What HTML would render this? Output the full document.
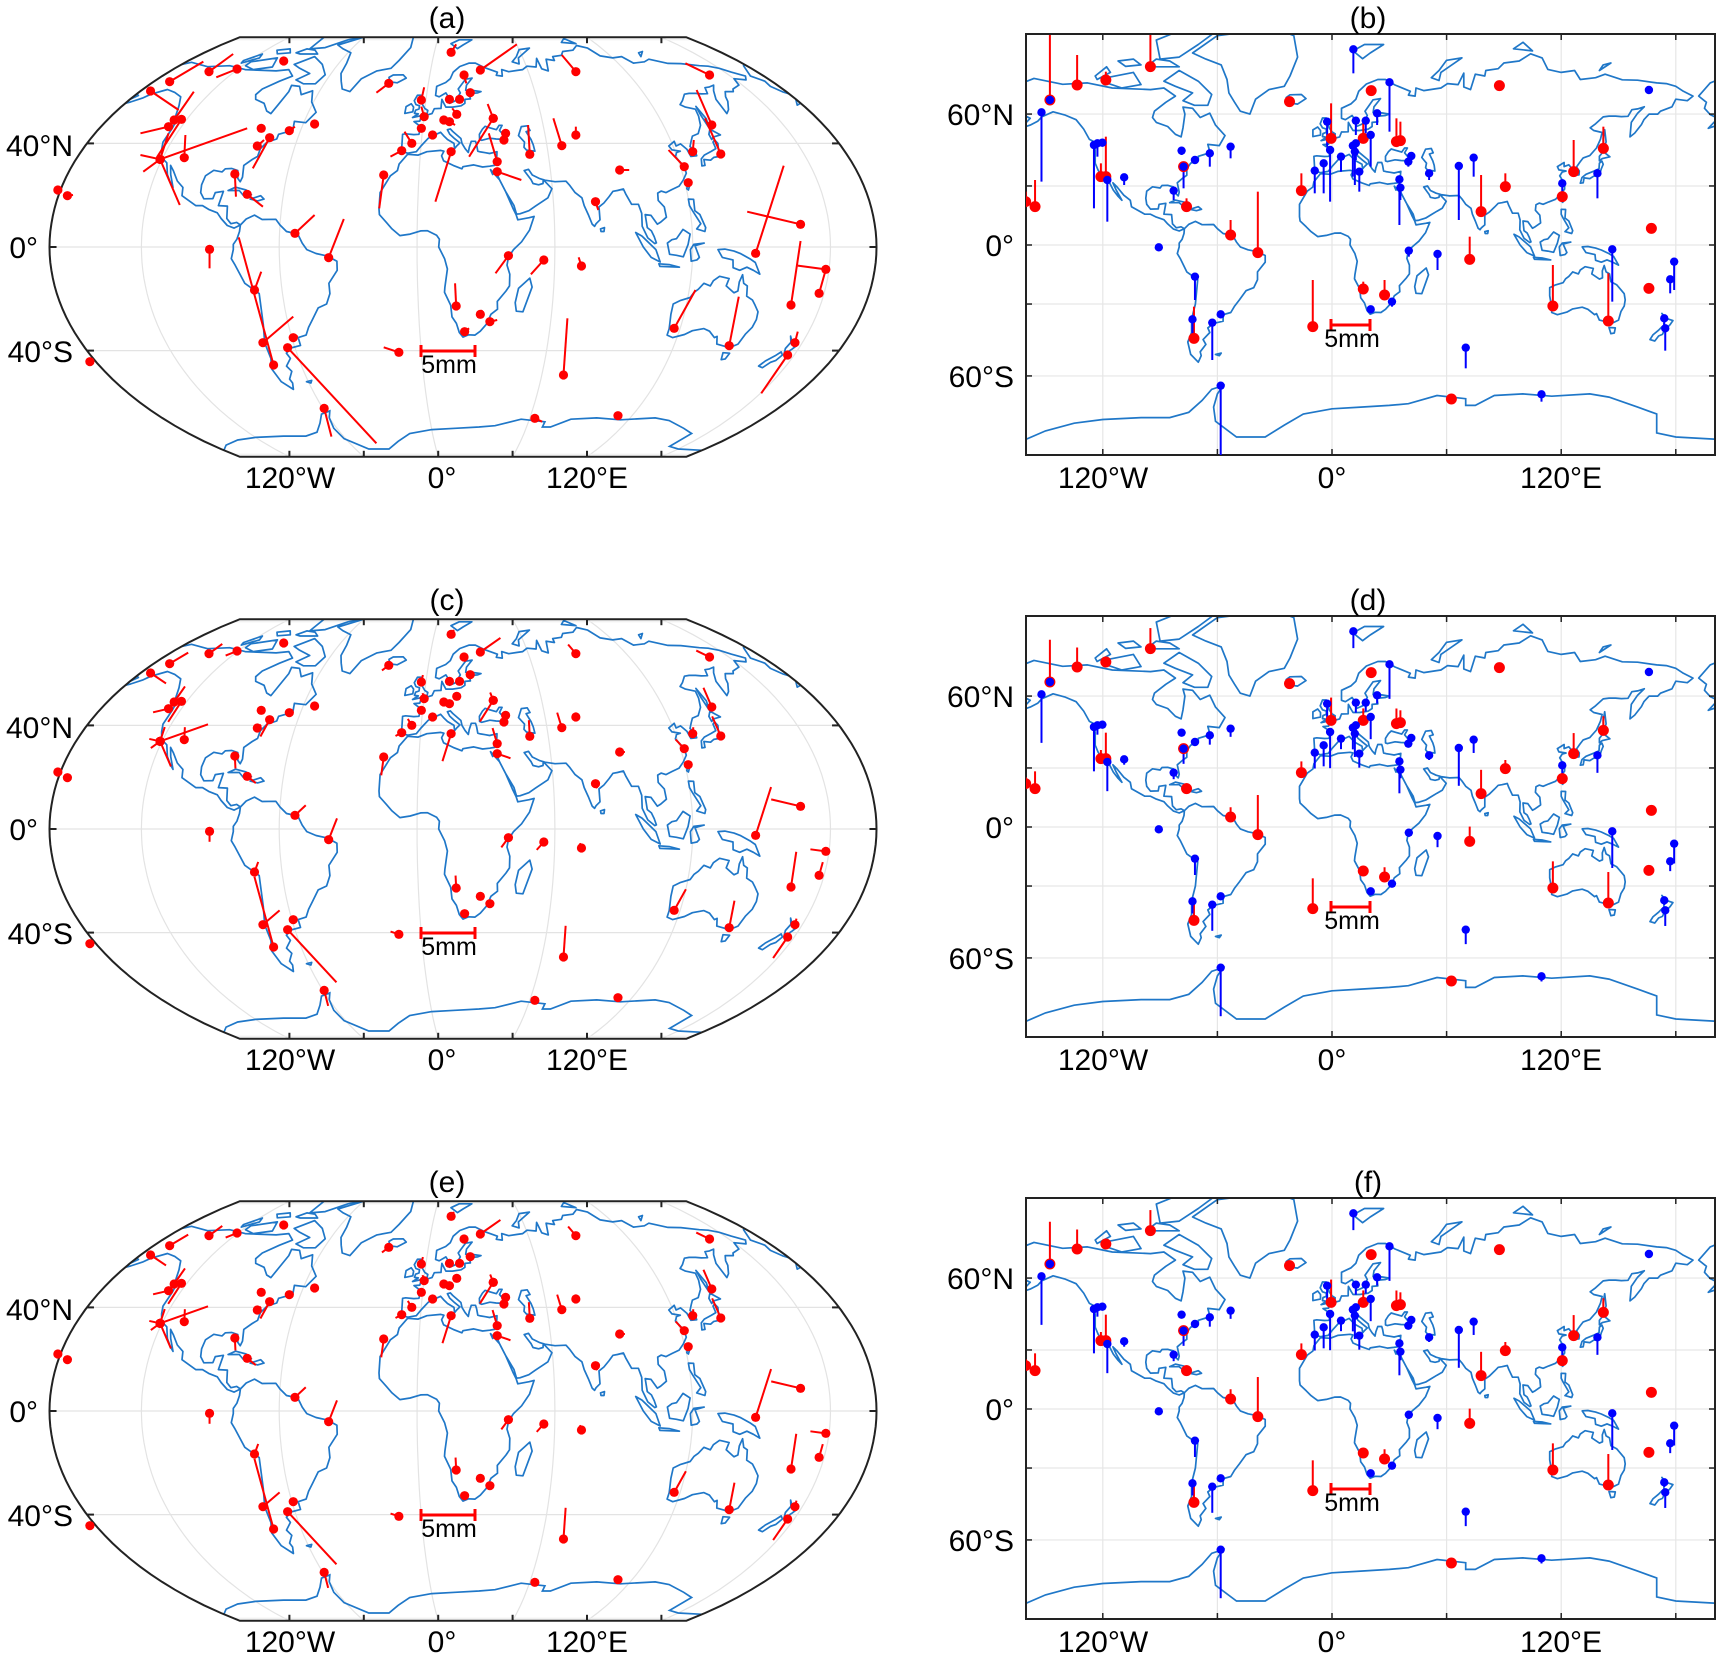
<!DOCTYPE html>
<html><head><meta charset="utf-8">
<style>
html,body{margin:0;padding:0;background:#fff;}
svg{display:block;}
text{font-family:"Liberation Sans",Arial,sans-serif;fill:#000;}
</style></head>
<body>
<svg id="s" width="1716" height="1655" viewBox="0 0 1716 1655" xmlns="http://www.w3.org/2000/svg">
<g id="root"></g>
<g font-size="30" text-anchor="middle">
<text x="447" y="28">(a)</text><text x="1368" y="28">(b)</text>
<text x="447" y="610">(c)</text><text x="1368" y="610">(d)</text>
<text x="447" y="1192">(e)</text><text x="1368" y="1192">(f)</text>
</g>
<g font-size="30">
<g text-anchor="end">
<text x="73" y="156">40°N</text><text x="38" y="258">0°</text><text x="73" y="362">40°S</text>
<text x="73" y="738">40°N</text><text x="38" y="840">0°</text><text x="73" y="944">40°S</text>
<text x="73" y="1320">40°N</text><text x="38" y="1422">0°</text><text x="73" y="1526">40°S</text>
<text x="1014" y="125">60°N</text><text x="1014" y="256">0°</text><text x="1014" y="387">60°S</text>
<text x="1014" y="707">60°N</text><text x="1014" y="838">0°</text><text x="1014" y="969">60°S</text>
<text x="1014" y="1289">60°N</text><text x="1014" y="1420">0°</text><text x="1014" y="1551">60°S</text>
</g>
<g text-anchor="middle">
<text x="290" y="488">120°W</text><text x="442" y="488">0°</text><text x="587" y="488">120°E</text>
<text x="290" y="1070">120°W</text><text x="442" y="1070">0°</text><text x="587" y="1070">120°E</text>
<text x="290" y="1652">120°W</text><text x="442" y="1652">0°</text><text x="587" y="1652">120°E</text>
<text x="1103" y="488">120°W</text><text x="1332" y="488">0°</text><text x="1561" y="488">120°E</text>
<text x="1103" y="1070">120°W</text><text x="1332" y="1070">0°</text><text x="1561" y="1070">120°E</text>
<text x="1103" y="1652">120°W</text><text x="1332" y="1652">0°</text><text x="1561" y="1652">120°E</text>
</g>
</g>
<g font-size="25" text-anchor="middle">
<text x="449" y="373">5mm</text><text x="449" y="955">5mm</text><text x="449" y="1537">5mm</text>
<text x="1352" y="347">5mm</text><text x="1352" y="929">5mm</text><text x="1352" y="1511">5mm</text>
</g>
</svg>
<script>
(function(){
var NS="http://www.w3.org/2000/svg";
var root=document.getElementById('root');
function el(tag,attrs,parent){var e=document.createElementNS(NS,tag);for(var k in attrs)e.setAttribute(k,attrs[k]);(parent||root).appendChild(e);return e;}
var POLYS=[
[[-168,66],[-162,70],[-156,71.3],[-141,69.6],[-128,70],[-115,68.5],[-95,68],[-88,68.5],[-82,66],[-87,64],[-93,61],[-94,58.8],[-92,57],[-86,55.5],[-82,52.5],[-79,51.5],[-78,55],[-77,60],[-78,62.4],[-73,62],[-69,58.8],[-64,60.3],[-61,56],[-56,52],[-59,48],[-65,48.5],[-64,45.5],[-66,44.5],[-70,43.5],[-70,41.7],[-74,40.5],[-76,38],[-76,35],[-78,33.8],[-81,31.5],[-80,27],[-80.5,25.2],[-82,26.5],[-83,29.5],[-86,30.3],[-89,30.2],[-90,29],[-94,29.6],[-97,27.5],[-97.5,24],[-97,21],[-95,18.6],[-91,18.7],[-90.5,21],[-87,21.5],[-88,16],[-84,15.8],[-83.5,11],[-81.5,9],[-79,9.5],[-77.3,8.5],[-80,7.3],[-83,8.3],[-86,11],[-88,13.2],[-92,14.5],[-95,16],[-98,16],[-105,19.8],[-105.6,23],[-109,25.5],[-112.5,29.5],[-114.7,31.5],[-113,28],[-110,23],[-112,25],[-114.5,28],[-117,32.5],[-120.5,34.5],[-122.5,37.5],[-124,40.5],[-124,46],[-124.6,48.4],[-123,49],[-127,50.5],[-130,54.5],[-134,58],[-140,59.7],[-146,60.8],[-152,59],[-154,57.5],[-158,56],[-163,54.8],[-158,58.5],[-162,59.8],[-165,62],[-164,64],[-168,66]],
[[-73,78],[-60,82],[-30,83.5],[-20,82],[-18,77],[-22,72],[-25,69],[-33,68],[-40,65],[-43,60],[-48,61],[-51,64],[-54,67],[-55,71],[-58,75],[-66,76.5],[-73,78]],
[[-80,73.5],[-70,70.5],[-63,66.5],[-65,63],[-72,63],[-78,64.5],[-73,67],[-82,69],[-88,70.5],[-80,73.5]],
[[-118,71.5],[-104,73],[-100,69.5],[-110,68.5],[-118,70],[-118,71.5]],
[[-90,76.5],[-80,77],[-70,80],[-62,82.5],[-80,83],[-92,81],[-90,76.5]],
[[-96,75],[-92,76.5],[-85,76],[-80,74.5],[-92,74.5],[-96,75]],
[[-112,76],[-104,76.5],[-100,75],[-108,74.6],[-112,76]],
[[-124,72],[-118,74.5],[-116,73],[-123,71],[-124,72]],
[[-77.3,8.5],[-75,10.8],[-71.5,12.3],[-68,10.6],[-62,10.7],[-60,8.5],[-57,6],[-52,5],[-50,1.5],[-48,-1],[-44,-2.5],[-39,-3.5],[-35,-5.5],[-35,-9],[-39,-14],[-39,-18],[-41,-22],[-45,-23.5],[-48.5,-28],[-51,-31],[-53,-34],[-57,-35],[-57,-38],[-62,-39],[-65,-41],[-64,-43],[-67.5,-46],[-66,-48],[-69,-51],[-68.5,-52.5],[-70,-55],[-74,-52],[-75.5,-47],[-73.5,-43],[-73.5,-37],[-71.5,-30],[-70.3,-18],[-76,-14],[-79.5,-7],[-81,-4.5],[-80,-1],[-80,1],[-78.5,3],[-77.5,6],[-77.3,8.5]],
[[-9.5,43.5],[-9,37],[-6,36.2],[-2,36.8],[0,39],[3.2,42],[6,43.2],[9,44.3],[10.5,43],[12.5,41.5],[15.7,40],[16,38],[17,39],[18.5,40.2],[16,41.8],[13.5,43.6],[12.3,45.3],[13.7,45.6],[15,44.6],[19,41.9],[19.5,40],[21,38],[22.5,36.5],[23,38.5],[24,40.8],[26,40.8],[26.5,39.5],[27,37],[28.2,36.7],[30.5,36.4],[32.5,36.1],[36,36.8],[35.8,35],[34.5,31.5],[32.3,31.2],[29,30.9],[25,31.7],[20,31],[19.5,30.2],[15.5,31.5],[11,33.3],[10,35.2],[11,37],[9.5,37.3],[3,36.8],[-1,35.5],[-6,35.8],[-9.5,32],[-10,29.5],[-13,27.5],[-17,21],[-17,14.7],[-16.7,12.5],[-13.5,9.5],[-11,7],[-7.5,4.4],[-3,5],[1.5,6.2],[4.5,6.3],[8.5,4.5],[9.7,3],[9.4,0],[12,-4.5],[13.2,-8.5],[12,-15.5],[11.8,-17.5],[14.5,-22.5],[15,-27],[17,-29.5],[18.3,-33],[20,-34.8],[22.5,-33.9],[25.6,-34],[28,-32.5],[31,-29.5],[32.6,-26],[35.5,-24],[35.3,-21],[39,-17],[40.5,-15],[40.5,-10.5],[39.2,-7],[39.8,-4],[42,-1],[45.5,2],[49,6.5],[51.2,11.8],[49,11.3],[44,10.5],[43.3,12.5],[42,15],[39,21.5],[36.5,26],[34,28.5],[32.6,29.9],[33.5,28],[34.9,29.5],[36.5,26],[39,21.5],[42.5,16],[43.5,12.7],[45,12.8],[49,14],[52,15.8],[55,17.5],[57.7,19],[59.8,22.5],[56.3,26],[56,24.5],[54,24],[51.5,24.5],[50.8,26],[50,27],[48,29.5],[50,30],[51.5,27.8],[54.5,26.5],[57,25.8],[61.5,25.2],[66.5,25.4],[68,23.7],[70,21],[72.8,19],[73.5,16],[75,12.5],[76.5,8.8],[77.5,8],[78.2,9],[80,10.5],[80,15.5],[82.3,17],[85,19.5],[87,21.5],[89,21.8],[91.8,22.4],[92.5,20.5],[94.5,16.5],[97.5,16.5],[98.5,13],[98.3,8],[100.5,3.5],[103.5,1.3],[104.2,1.6],[103.3,4],[102.2,6.2],[100.5,7.5],[100,12.5],[102.5,12.2],[105,8.8],[106.5,9.6],[109.2,11.5],[108.8,15.5],[106.5,18],[106.8,20.8],[108.5,21.6],[110.5,21],[113.5,22.2],[117,23.5],[119.5,25.8],[121.8,28.5],[121.8,31],[120.8,32.5],[119.2,34.8],[120.5,36.5],[122.5,37],[118.8,37.5],[118,39],[121.5,40.8],[121.5,39],[124,39.8],[126,37.7],[126.5,35],[129.3,35.2],[129.5,37],[128,38.8],[129.8,41],[131.5,42.8],[135,43.8],[138.5,47],[140.5,50.5],[141.4,53.2],[137,54],[135.2,55],[138,56.5],[142,59],[145,59.3],[148.5,59.3],[151.5,59.1],[155,59.2],[157,61.5],[160,61.8],[163.5,62.5],[160,60.3],[156.7,57],[156,51.5],[158.5,53],[162,56.2],[163.3,58],[166,60],[170.5,60],[172,61],[178,62.5],[180,65],[186,64.5],[189,66],[184,67.5],[180,69],[175,69.8],[170,70],[160,70.8],[152,70.9],[143,72.5],[138,71.5],[130,71],[127,73.5],[120,73],[113,73.8],[110,76.8],[104,77.8],[98,76],[90,75.5],[87,74],[80.5,73.5],[80,72],[75,72.5],[72.5,68],[69,68.8],[69,72.8],[66,69.5],[60.5,69.8],[57,68.5],[53.5,68.2],[48,67.7],[44,68.5],[43.5,66],[40,66.3],[41,67.5],[33,69.4],[28,71],[24,71],[18,69.7],[14,67.5],[12.5,65],[10,63.5],[5,62],[5,58.5],[7,58],[10.5,59.5],[12,58],[12.8,55.5],[14.5,56],[16,56.5],[18.5,59.5],[17.3,61],[21.5,64.8],[25.4,65.2],[22,62.5],[21.5,60.5],[26,60.4],[30,60],[28,59.5],[23.5,59.2],[24,57.2],[21,57],[21,55.5],[19,54.5],[14.5,54],[11,54],[10,55.2],[8.6,57],[8.5,55],[8.5,53.5],[5,53.4],[4,51.5],[1.6,51],[0,49.7],[-1.5,49.7],[-1.8,48.6],[-4.7,48.4],[-2,47],[-1,46],[-1.5,43.5],[-4,43.4],[-8,43.7],[-9.5,43.5]],
[[28,41.5],[28,43.5],[29.6,45.5],[31,46.6],[33.5,46],[36.5,45.3],[38,47],[39.5,47],[38,45],[41.5,41.5],[36,41.7],[33,42],[29,41.2],[28,41.5]],
[[47,43],[49,46.5],[52,46.8],[53,45],[51,44.5],[52.8,41.5],[53.5,39.5],[53.9,37],[50,37.4],[49,38.5],[49.5,40.5],[47,43]],
[[-5.7,50],[1.4,51.2],[1.7,52.7],[0,53.5],[-1.5,55],[-2,57],[-4,57.7],[-3,58.6],[-5,58.6],[-6.2,56.5],[-5,55],[-3,54.5],[-3,53.3],[-4.7,52.8],[-5,51.6],[-3,51.4],[-5.7,50]],
[[-10,51.6],[-6,52.2],[-6,54],[-7.5,55.3],[-10,54.2],[-10,51.6]],
[[-24,65.5],[-22,66.4],[-16,66.5],[-13.6,65.2],[-18,63.4],[-22.5,63.8],[-24,65.5]],
[[49.3,-12],[50.5,-15.5],[47,-25],[44,-24.8],[43.3,-21.5],[44.5,-16],[49.3,-12]],
[[130,31.3],[131.5,31.5],[132,33.8],[135,33.5],[137,34.6],[140,35],[141,38],[142,40],[141.3,41.4],[140,40.5],[139.8,38],[137,36.9],[133,35.5],[130.9,34],[130,31.3]],
[[140,41.5],[141.5,42.5],[145.5,43.3],[142,45.5],[140,43.5],[140,41.5]],
[[142,46],[143.5,49.5],[142.8,54.3],[142,51],[142,46]],
[[120,18.5],[122.3,18.4],[122,14],[124,12.5],[126,7.5],[125.5,6],[122,7],[124,9],[121,14],[120,16],[120,18.5]],
[[109,1.5],[111,2.8],[113,3.2],[116,6.8],[119,5],[118,1],[116,-3.8],[113,-3.2],[110,-2.8],[109,1.5]],
[[95.3,5.6],[98,4.2],[104,-1],[106,-5.8],[102,-4],[98.5,0],[95.3,5.6]],
[[105.5,-6.5],[110,-6.8],[114.5,-7.8],[106,-7.5],[105.5,-6.5]],
[[119,-1],[120.5,1],[125,1.5],[121,0.5],[123,-4],[122,-5],[119.5,-5.5],[119,-1]],
[[131,-1],[134,-0.8],[138,-1.6],[141,-2.6],[145,-4.5],[147.5,-6],[150,-10.5],[147,-9],[144,-7.8],[141,-9],[138,-8],[137.7,-5],[133,-4],[131,-1]],
[[114,-22],[114,-26],[115,-31.5],[115,-34],[118,-35],[123,-33.8],[126,-32.3],[131,-31.5],[134,-32.5],[137.5,-35],[138.5,-34.5],[140,-37.5],[144,-38.3],[146.5,-39],[150,-37.5],[151.3,-33.5],[153,-31],[153.5,-28],[153,-25],[150.8,-22.5],[149,-20.5],[146,-19],[145.3,-15],[143.5,-14],[142.5,-10.7],[141.5,-13.5],[141.6,-17],[140,-17.7],[136,-15],[136.8,-12.2],[132.5,-11.3],[130,-13],[129,-15],[126,-14],[124,-16.3],[122.3,-17.5],[121,-19.5],[117,-20.6],[114,-22]],
[[145,-40.8],[148.3,-41],[147.8,-43.2],[146,-43.5],[145,-40.8]],
[[172.7,-34.4],[175,-36.7],[178.5,-37.7],[177,-39.5],[174.8,-41.4],[173.7,-39.2],[174.5,-36.8],[172.7,-34.4]],
[[172.7,-40.5],[174.3,-41.7],[173,-43.8],[171,-44.5],[169,-46.6],[166.5,-46],[168,-44],[171,-42],[172.7,-40.5]],
[[-85,21.8],[-82,23.1],[-77,22],[-74.2,20.2],[-77.7,19.9],[-80,21.8],[-85,21.8]],
[[-74.4,18.5],[-70,19.8],[-68.3,18.5],[-71,17.8],[-74.4,18.5]],
[[11,78.5],[17,80],[27,80],[20,78],[16,76.6],[11,78.5]],
[[52,71.5],[56,73.5],[60,76.2],[68,76.8],[57,73],[56,70.7],[52,71.5]],
[[80,7],[81.8,7.5],[81.5,6],[80.2,6],[80,7]],
[[120.2,22.5],[121.5,25],[122,24],[120.8,22],[120.2,22.5]],
[[-155.5,19],[-155,19.8],[-156,20],[-155.5,19]],
[[-61,-52],[-58,-51.5],[-59,-52.5],[-61,-52]],
[[140,73.5],[146,75.5],[142,75],[140,73.5]],
[[95,79],[105,78.5],[100,80.5],[95,79]]
];
var ANT=[[-180,-78],[-160,-78.5],[-150,-76.5],[-135,-74.5],[-120,-73.5],[-100,-73],[-85,-73],[-75,-71.5],[-68,-68],[-63,-64.5],[-57,-63.3],[-60,-66],[-62,-70],[-61,-74],[-50,-78],[-35,-78],[-25,-75],[-15,-72],[0,-70.5],[15,-70],[30,-69.5],[40,-69],[55,-66.5],[70,-67.5],[70,-69.5],[75,-69.5],[85,-66.5],[100,-66],[115,-66.7],[135,-66],[145,-67],[160,-70],[170,-72],[170,-77],[180,-78],[200,-78.5],[220,-78]];

function XA(p){p=Math.max(-81,Math.min(81,p));return Math.sqrt(1-1.08e-4*p*p);}
function projA(lon,lat,dy){var p=Math.max(-81,Math.min(81,lat));return [463+2.297*XA(p)*(lon-20),247-2.59*p+dy];}
function projB(lon,lat,dy){var f=Math.max(-85,Math.min(85,lat))*Math.PI/180;return [1332+1.91*lon,245-136.75*Math.log(Math.tan(Math.PI/4+0.4*f))+dy];}
function pathOf(pts,proj,dy,off,close){var s='';for(var i=0;i<pts.length;i++){var q=proj(pts[i][0]+off,pts[i][1],dy);s+=(i?'L':'M')+q[0].toFixed(1)+','+q[1].toFixed(1);}return s+(close?'Z':'');}
function boundaryA(dy){var s='';var i,q;for(i=-81;i<=81;i+=3){q=projA(200,i,dy);s+=(s?'L':'M')+q[0].toFixed(1)+','+q[1].toFixed(1);}for(i=81;i>=-81;i-=3){q=projA(-160,i,dy);s+='L'+q[0].toFixed(1)+','+q[1].toFixed(1);}return s+'Z';}

var COAST='#1f77c8';
var rows=[0,582,1164];
rows.forEach(function(dy,ri){
  var cid='ca'+ri;
  var cp=el('clipPath',{id:cid});el('path',{d:boundaryA(dy)},cp);
  var gA=el('g',{'clip-path':'url(#'+cid+')'});
  [-120,-60,0,60,120,180].forEach(function(L){var pts=[];for(var p=-81;p<=81;p+=3)pts.push([L,p]);el('path',{d:pathOf(pts,projA,dy,0,false),fill:'none',stroke:'#e3e3e3','stroke-width':1.2},gA);});
  [-40,0,40].forEach(function(P){var a=projA(-160,P,dy),b=projA(200,P,dy);el('line',{x1:a[0],y1:a[1],x2:b[0],y2:b[1],stroke:'#e3e3e3','stroke-width':1.2},gA);});
  [-80,80].forEach(function(P){var a=projA(-160,P,dy),b=projA(200,P,dy);el('line',{x1:a[0],y1:a[1],x2:b[0],y2:b[1],stroke:'#eeeeee','stroke-width':1},gA);});
  var d='';POLYS.forEach(function(pl){d+=pathOf(pl,projA,dy,0,true);d+=pathOf(pl,projA,dy,360,true);});
  el('path',{d:d,fill:'none',stroke:COAST,'stroke-width':1.7,'stroke-linejoin':'round'},gA);
  el('path',{d:pathOf(ANT,projA,dy,0,false),fill:'none',stroke:COAST,'stroke-width':1.7},gA);
  el('path',{d:boundaryA(dy),fill:'none',stroke:'#222','stroke-width':2});
  [-40,0,40].forEach(function(P){var a=projA(-160,P,dy),b=projA(200,P,dy);el('line',{x1:a[0],y1:a[1],x2:a[0]+7,y2:a[1],stroke:'#222','stroke-width':2});el('line',{x1:b[0]-7,y1:b[1],x2:b[0],y2:b[1],stroke:'#222','stroke-width':2});});
  [-120,-60,0,60,120,180].forEach(function(L){var a=projA(L,81,dy),b=projA(L,-81,dy);el('line',{x1:a[0],y1:a[1],x2:a[0],y2:a[1]+6,stroke:'#222','stroke-width':2});el('line',{x1:b[0],y1:b[1]-6,x2:b[0],y2:b[1],stroke:'#222','stroke-width':2});});
  el('path',{d:'M421,'+(351+dy)+'H475M421,'+(345+dy)+'V'+(357+dy)+'M475,'+(345+dy)+'V'+(357+dy),stroke:'#f00','stroke-width':3,fill:'none'});

  var cbid='cb'+ri;
  var cpb=el('clipPath',{id:cbid});el('rect',{x:1026,y:34+dy,width:689,height:421},cpb);
  var gB=el('g',{'clip-path':'url(#'+cbid+')'});
  [-120,-60,0,60,120,180].forEach(function(L){var x=1332+1.91*L;el('line',{x1:x,y1:34+dy,x2:x,y2:455+dy,stroke:'#e6e6e6','stroke-width':1.2},gB);});
  [-60,-30,0,30,60].forEach(function(P){var y=projB(0,P,dy)[1];el('line',{x1:1026,y1:y,x2:1715,y2:y,stroke:'#e6e6e6','stroke-width':1.2},gB);});
  var db='';POLYS.forEach(function(pl){db+=pathOf(pl,projB,dy,0,true);db+=pathOf(pl,projB,dy,360,true);});
  el('path',{d:db,fill:'none',stroke:COAST,'stroke-width':1.7,'stroke-linejoin':'round'},gB);
  el('path',{d:pathOf(ANT,projB,dy,0,false),fill:'none',stroke:COAST,'stroke-width':1.7},gB);
  el('rect',{x:1026,y:34+dy,width:689,height:421,fill:'none',stroke:'#222','stroke-width':2});
  [-120,-60,0,60,120,180].forEach(function(L){var x=1332+1.91*L;el('line',{x1:x,y1:34+dy,x2:x,y2:40+dy,stroke:'#222','stroke-width':1.5});el('line',{x1:x,y1:449+dy,x2:x,y2:455+dy,stroke:'#222','stroke-width':1.5});});
  [-60,-30,0,30,60].forEach(function(P){var y=projB(0,P,dy)[1];el('line',{x1:1026,y1:y,x2:1032,y2:y,stroke:'#222','stroke-width':1.5});el('line',{x1:1709,y1:y,x2:1715,y2:y,stroke:'#222','stroke-width':1.5});});
  el('path',{d:'M1331,'+(325+dy)+'H1370M1331,'+(319+dy)+'V'+(331+dy)+'M1370,'+(319+dy)+'V'+(331+dy),stroke:'#f00','stroke-width':3,fill:'none'});
});

var DA=[[505,183,505,190],[422,207,385,232],[372,215,415,162],[302,245,362,185],[268,273,318,330],[300,380,250,400],[310,360,345,275],[323,358,280,470],[285,478,440,385],[285,478,250,465],[285,478,255,515],[285,478,320,615],[285,478,300,400],[328,473,330,405],[465,385,462,395],[515,392,525,380],[560,372,560,372],[480,413,450,505],[458,438,470,420],[418,522,420,590],[440,583,468,620],[103,570,103,570],[120,587,130,585],[525,700,560,645],[585,773,612,657],[373,748,373,805],[453,870,465,815],[487,1095,425,712],[468,1028,522,950],[522,1013,530,1008],[512,1043,670,1330],[577,1225,590,1310],[160,1085,160,1085],[710,1057,683,1042],[803,157,812,133],[692,250,670,278],[855,210,920,133],[826,225,830,250],[750,300,755,262],[800,298,800,298],[818,298,818,298],[837,278,842,275],[813,343,805,325],[755,350,750,320],[878,355,868,312],[878,355,835,470],[790,360,790,360],[800,365,810,375],[750,385,750,385],[770,405,770,405],[733,430,720,395],[715,452,695,470],[803,455,775,605],[900,400,905,400],[897,420,897,420],[943,463,940,375],[885,485,870,400],[885,515,928,540],[683,525,675,625],[1000,437,985,355],[1025,405,1025,380],[1025,215,1000,165],[1263,225,1220,190],[1267,375,1240,270],[1283,462,1255,355],[1233,455,1235,420],[1218,500,1190,450],[1225,548,1225,548],[1103,510,1120,510],[1060,605,1065,630],[905,767,882,820],[968,780,945,823],[1035,798,1030,772],[812,918,810,850],[855,943,858,930],[872,965,885,960],[827,995,835,985],[1003,1125,1010,955],[952,1255,965,1265],[1100,1247,1100,1247],[1345,760,1395,497],[1425,673,1330,635],[1470,808,1420,797],[1458,880,1470,808],[1408,915,1425,723],[1200,985,1238,870],[1298,1037,1315,890],[1415,1028,1420,995],[1402,1065,1355,1180]];
rows.forEach(function(dy,ri){
  var s=ri==0?1:0.55;
  var g=el('g',{});
  DA.forEach(function(a){var x=a[0]/1.78,y=a[1]/3+dy,ex=x+(a[2]/1.78-x)*s,ey=y+(a[3]/3+dy-y)*s;
    if(Math.abs(ex-x)+Math.abs(ey-y)>1)el('line',{x1:x,y1:y,x2:ex,y2:ey,stroke:'#f00','stroke-width':2},g);});
  DA.forEach(function(a){el('circle',{cx:a[0]/1.78,cy:a[1]/3+dy,r:4.6,fill:'#f00'},g);});
});

var RB=[[222,300,105],[277,255,165],[335,240,215],[425,200,105],[173,605,575],[192,620,540],[325,530,490],[335,530,410],[498,620,595],[587,705,660],[642,758,575],[706,305,290],[730,572,520],[790,415,310],[855,415,360],[922,425,355],[930,422,365],[871,272,272],[1130,257,257],[1093,635,525],[1142,560,520],[1070,778,710],[855,867,845],[898,885,840],[753,980,840],[513,1015,920],[1033,1197,1197],[1257,590,575],[1280,515,420],[1340,445,380],[1437,685,685],[1432,865,865],[1238,918,795],[1350,963,820],[492,500,500]];
var BB=[[222,300,300],[205,337,545],[311,435,625],[318,430,470],[328,428,440],[338,540,665],[372,532,555],[442,742,742],[472,572,600],[488,452,465],[515,480,490],[545,460,500],[587,440,475],[492,500,565],[835,148,220],[908,247,395],[883,340,375],[840,362,405],[860,362,400],[782,365,440],[788,450,605],[775,490,580],[757,512,580],[810,470,515],[834,437,530],[840,430,480],[838,455,555],[847,515,575],[870,405,500],[946,485,500],[952,468,480],[928,538,675],[930,563,600],[988,520,540],[1048,498,660],[1078,473,530],[947,752,770],[1005,762,810],[1257,550,600],[1328,520,595],[1432,270,270],[1358,748,905],[1483,785,870],[1475,838,880],[1463,955,975],[1465,985,1052],[1062,1043,1105],[913,905,920],[870,928,940],[515,830,900],[510,958,1010],[550,968,1080],[567,943,955],[567,1157,1365],[1215,1183,1205]];
rows.forEach(function(dy,ri){
  var sr=ri==0?1:0.65,sb=ri==0?1:0.7;
  var g=el('g',{'clip-path':'url(#cb'+ri+')'});
  function X(z){return 940+z/2.02;}
  RB.forEach(function(a){var x=X(a[0]),y=a[1]/3+dy,ey=y+(a[2]/3+dy-y)*sr;if(Math.abs(ey-y)>1)el('line',{x1:x,y1:y,x2:x,y2:ey,stroke:'#f00','stroke-width':2},g);});
  BB.forEach(function(a){var x=X(a[0]),y=a[1]/3+dy,ey=y+(a[2]/3+dy-y)*sb;if(Math.abs(ey-y)>1)el('line',{x1:x,y1:y,x2:x,y2:ey,stroke:'#00f','stroke-width':2},g);});
  RB.forEach(function(a){el('circle',{cx:X(a[0]),cy:a[1]/3+dy,r:5.5,fill:'#f00'},g);});
  BB.forEach(function(a){el('circle',{cx:X(a[0]),cy:a[1]/3+dy,r:4.2,fill:'#00f'},g);});
});
})();
</script>
</body></html>
